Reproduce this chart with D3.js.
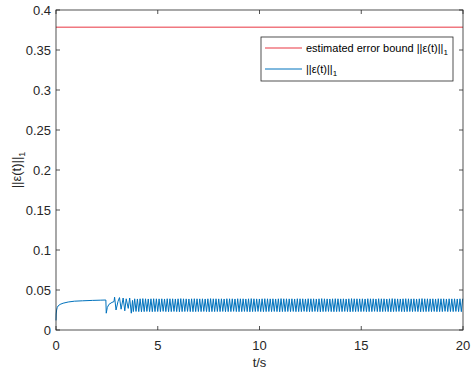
<!DOCTYPE html>
<html>
<head>
<meta charset="utf-8">
<script src="https://cdn.jsdelivr.net/npm/d3@7"></script>
<style>
  body { margin: 0; background: #fff; }
  svg { display: block; font-family: "Liberation Sans", Arial, sans-serif; }
  .tick-label { font-size: 13px; fill: #262626; }
  .legend-text { font-size: 11px; fill: #000; }
</style>
</head>
<body>
<svg id="chart" width="474" height="370"></svg>
<script>
// axis ticks
const xTicks = [0, 5, 10, 15, 20];
const yTicks = [0, 0.05, 0.1, 0.15, 0.2, 0.25, 0.3, 0.35, 0.4];

// estimated error bound (constant)
const boundValue = 0.3785;

// start-up part of ||e(t)||_1
const startT = [0, 0.01, 0.03, 0.06, 0.1, 0.2, 0.35, 0.6, 0.9, 1.3, 1.8, 2.2, 2.45, 2.47, 2.52, 2.6,
  2.75, 2.85, 2.88, 2.95, 3.05, 3.12, 3.2, 3.3, 3.38, 3.45, 3.55, 3.62, 3.7, 3.76];
const startV = [0.012, 0.02, 0.025, 0.028, 0.030, 0.032, 0.0335, 0.035, 0.036, 0.0365, 0.037, 0.0373, 0.0375, 0.021, 0.028, 0.032,
  0.0345, 0.0355, 0.041, 0.025, 0.036, 0.0405, 0.026, 0.040, 0.024, 0.039, 0.027, 0.040, 0.021, 0.037];

// steady oscillation, sampled every oscStep seconds from oscStart
const oscStart = 3.8;
const oscStep = 0.0666;
const oscV = [
  0.023,0.039,0.0232,0.0388,0.023,0.039,0.0228,0.0392,0.023,0.039,0.0232,0.0388,0.023,0.039,0.0229,0.0391,0.023,0.039,0.0231,0.0389,
  0.023,0.039,0.0233,0.0388,0.023,0.0391,0.0229,0.039,0.023,0.039,0.0232,0.0388,0.023,0.039,0.0228,0.0392,0.023,0.039,0.0231,0.0389,
  0.0232,0.0388,0.023,0.039,0.0229,0.0391,0.023,0.039,0.0231,0.0389,0.023,0.039,0.0232,0.0388,0.023,0.039,0.0228,0.0392,0.023,0.039,
  0.023,0.039,0.0231,0.0389,0.023,0.039,0.0232,0.0388,0.0229,0.0391,0.023,0.039,0.023,0.039,0.0233,0.0388,0.023,0.0391,0.0229,0.039,
  0.023,0.039,0.0232,0.0388,0.023,0.039,0.0228,0.0392,0.023,0.039,0.0231,0.0389,0.0232,0.0388,0.023,0.039,0.0229,0.0391,0.023,0.039,
  0.0231,0.0389,0.023,0.039,0.0232,0.0388,0.023,0.039,0.0228,0.0392,0.023,0.039,0.023,0.039,0.0231,0.0389,0.023,0.039,0.0232,0.0388,
  0.0229,0.0391,0.023,0.039,0.023,0.039,0.0233,0.0388,0.023,0.0391,0.0229,0.039,0.023,0.039,0.0232,0.0388,0.023,0.039,0.0228,0.0392,
  0.023,0.039,0.0231,0.0389,0.0232,0.0388,0.023,0.039,0.0229,0.0391,0.023,0.039,0.0231,0.0389,0.023,0.039,0.0232,0.0388,0.023,0.039,
  0.0228,0.0392,0.023,0.039,0.023,0.039,0.0231,0.0389,0.023,0.039,0.0232,0.0388,0.0229,0.0391,0.023,0.039,0.023,0.039,0.0233,0.0388,
  0.023,0.0391,0.0229,0.039,0.023,0.039,0.0232,0.0388,0.023,0.039,0.0228,0.0392,0.023,0.039,0.0231,0.0389,0.0232,0.0388,0.023,0.039,
  0.0229,0.0391,0.023,0.039,0.0231,0.0389,0.023,0.039,0.0232,0.0388,0.023,0.039,0.0228,0.0392,0.023,0.039,0.023,0.039,0.0231,0.0389,
  0.023,0.039,0.0232,0.0388,0.0229,0.0391,0.023,0.039,0.023,0.039,0.0233,0.0388,0.023,0.039,0.0231,0.0389,0.023,0.039,0.0232,0.0388,
  0.023,0.039,0.0229,0.0391
];

const width = 474, height = 370;
const margin = {top: 10, right: 11, bottom: 40, left: 56};
const axisColor = "#262626";
const boundColor = "#f07880";
const errColor = "#0072bd";

const svg = d3.select("#chart");

const x = d3.scaleLinear().domain([0, 20]).range([margin.left, width - margin.right]);
const y = d3.scaleLinear().domain([0, 0.4]).range([height - margin.bottom, margin.top]);

// build the series as [t, v] pairs
const errData = startT.map((t, i) => [t, startV[i]])
  .concat(oscV.map((v, i) => [oscStart + i * oscStep, v]))
  .filter(d => d[0] <= 20);

const line = d3.line().x(d => x(d[0])).y(d => y(d[1]));

svg.append("path")
  .datum(errData)
  .attr("fill", "none")
  .attr("stroke", errColor)
  .attr("stroke-width", 1)
  .attr("d", line);

svg.append("path")
  .datum([[0, boundValue], [20, boundValue]])
  .attr("fill", "none")
  .attr("stroke", boundColor)
  .attr("stroke-width", 1.6)
  .attr("d", line);

// axes, ticks pointing inward like matlab
const tickLen = 4;
const g = svg.append("g").attr("class", "axes");

g.append("rect")
  .attr("x", x(0)).attr("y", y(0.4))
  .attr("width", x(20) - x(0)).attr("height", y(0) - y(0.4))
  .attr("fill", "none").attr("stroke", axisColor).attr("stroke-width", 0.8);

g.selectAll(".xt").data(xTicks).enter().append("path")
  .attr("stroke", axisColor).attr("stroke-width", 0.8)
  .attr("d", d => `M${x(d)},${y(0)}v${-tickLen}M${x(d)},${y(0.4)}v${tickLen}`);

g.selectAll(".yt").data(yTicks).enter().append("path")
  .attr("stroke", axisColor).attr("stroke-width", 0.8)
  .attr("d", d => `M${x(0)},${y(d)}h${tickLen}M${x(20)},${y(d)}h${-tickLen}`);

g.selectAll(".xl").data(xTicks).enter().append("text")
  .attr("class", "tick-label")
  .attr("x", d => x(d)).attr("y", y(0) + 20)
  .attr("text-anchor", "middle")
  .text(d => d);

g.selectAll(".yl").data(yTicks).enter().append("text")
  .attr("class", "tick-label")
  .attr("x", x(0) - 5).attr("y", d => y(d))
  .attr("dominant-baseline", "central")
  .attr("text-anchor", "end")
  .text(d => d);

// axis titles
svg.append("text")
  .attr("class", "tick-label")
  .attr("x", (x(0) + x(20)) / 2).attr("y", y(0) + 37)
  .attr("text-anchor", "middle")
  .text("t/s");

svg.append("text")
  .attr("class", "tick-label")
  .attr("transform", `translate(21,${(y(0) + y(0.4)) / 2}) rotate(-90)`)
  .attr("text-anchor", "middle")
  .html('||ε(t)||<tspan font-size="9" dy="4">1</tspan>');

// legend
const legend = svg.append("g").attr("class", "legend");
legend.append("rect")
  .attr("x", 261).attr("y", 37).attr("width", 192).attr("height", 44)
  .attr("fill", "#fff").attr("stroke", axisColor).attr("stroke-width", 0.8);

const legendItems = [
  {label: "estimated error bound ||ε(t)||", color: boundColor, w: 1.6},
  {label: "||ε(t)||", color: errColor, w: 1}
];
legendItems.forEach((item, i) => {
  const ly = 48 + i * 21;
  legend.append("line")
    .attr("x1", 265).attr("x2", 302).attr("y1", ly).attr("y2", ly)
    .attr("stroke", item.color).attr("stroke-width", item.w);
  legend.append("text")
    .attr("class", "legend-text")
    .attr("x", 306).attr("y", ly)
    .attr("dominant-baseline", "central")
    .html(`${item.label}<tspan font-size="8" dy="4">1</tspan>`);
});
</script>
</body>
</html>
